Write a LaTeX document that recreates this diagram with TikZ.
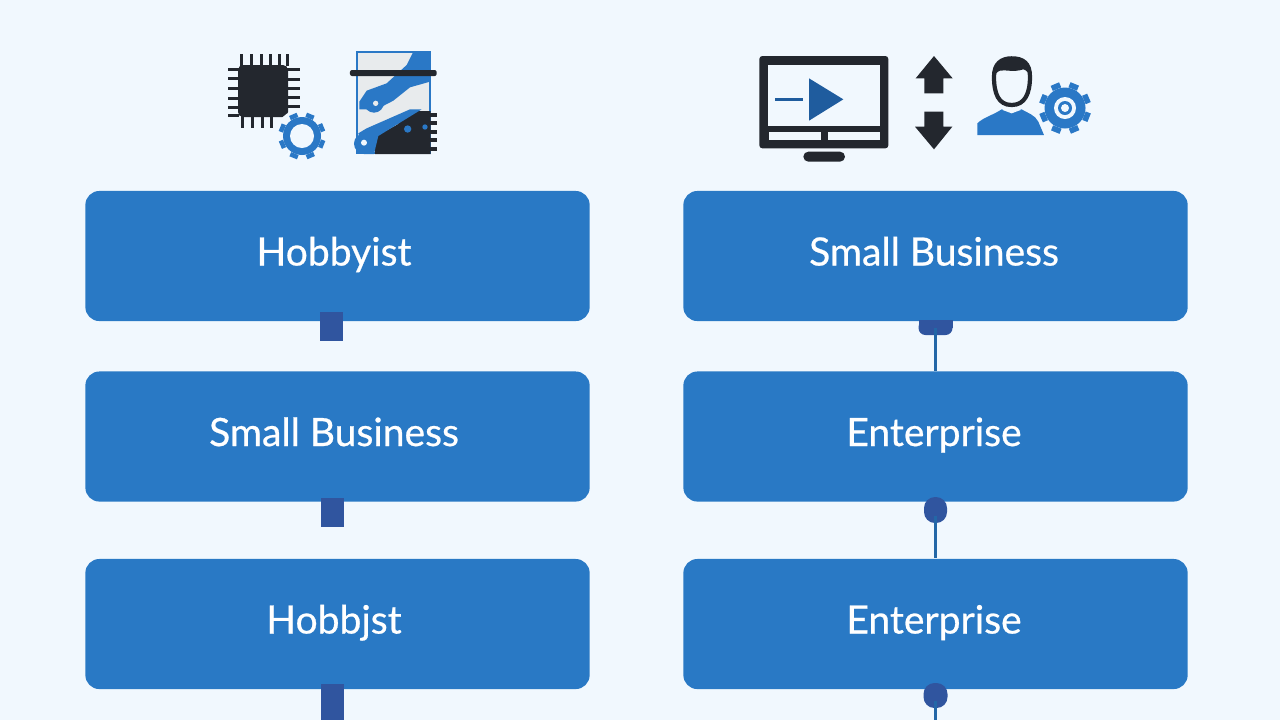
\documentclass[tikz,border=0pt]{standalone}
\usepackage{fontspec}
\setmainfont{Lato}
\newfontfamily\tierfont[FakeBold=0.6]{Lato}
\definecolor{pagebg}{HTML}{F1F8FE}
\definecolor{boxblue}{HTML}{2979C5}
\definecolor{tabblue}{HTML}{30559F}
\definecolor{iconblue}{HTML}{2A78C6}
\definecolor{icondark}{HTML}{23272E}
\definecolor{playblue}{HTML}{1F5C9E}
\definecolor{platelight}{HTML}{E8EBED}
\tikzset{
  tier/.style={fill=boxblue,text=white,rounded corners=0.14cm,minimum width=5.04cm,minimum height=1.3cm,inner sep=0,text height=0.3cm,text depth=0.11cm,font=\tierfont\fontsize{11.1}{12}\selectfont,execute at end node={\hspace{#1}}},
  stub/.style={fill=tabblue,inner sep=0,minimum width=0.23cm,minimum height=0.29cm},
  tab/.style={fill=tabblue,inner sep=0,outer sep=0,rounded corners=0.07cm},
  link/.style={draw=boxblue!85!black,line width=0.8pt,shorten <=-2pt}
}
\newcommand{\gearicon}[6]{
  \begin{scope}[shift={(#1,#2)}]
    \foreach \a in {0,45,...,315}{
      \draw[iconblue,line width=#6] (\a+22:#4) -- (\a+22:#3);
    }
    \fill[iconblue] (0,0) circle [radius=#4];
    \fill[pagebg] (0,0) circle [radius=#5];
  \end{scope}
}
\begin{document}
\begin{tikzpicture}[x=0.01cm,y=-0.01cm]
  \fill[pagebg] (0,0) rectangle (1280,720);
  \useasboundingbox (0,0) rectangle (1280,720);

  % left column
  \node[tier=0.07cm] (hobbyistA) at (337.5,256) {Hobbyist};
  \node[tier=0.07cm] (smallbizA) at (337.5,436.5) {Small Business};
  \node[tier=0.07cm] (hobbyistB) at (337.5,624) {Hobbjst};
  \node[stub] (stubA) at (331.5,326.5) {};
  \node[stub] (stubB) at (332,512.5) {};
  \node[stub,minimum height=0.36cm] (stubC) at (332,702) {};

  % right column
  \node[tier=0.03cm] (smallbizB) at (935.5,256) {Small Business};
  \node[tier=0.03cm] (enterpriseA) at (935.5,436.5) {Enterprise};
  \node[tier=0.03cm] (enterpriseB) at (935.5,624) {Enterprise};
  \coordinate (linkend) at (935.5,720);
  \node[tab,minimum width=0.34cm,minimum height=0.15cm] (tabA) at (935.5,327.5) {};
  \fill[tabblue] (tabA.north west) rectangle (tabA.east);
  \node[tab,rounded corners=0.11cm,minimum width=0.23cm,minimum height=0.26cm] (tabB) at (935.5,510) {};
  \node[tab,rounded corners=0.11cm,minimum width=0.24cm,minimum height=0.25cm] (tabC) at (935.5,695.5) {};
  \draw[link] (tabA) -- (enterpriseA);
  \draw[link] (tabB) -- (enterpriseB);
  \draw[link] (tabC) -- (linkend);

  % chip
  \fill[icondark,rounded corners=0.05cm] (238,65) rectangle (288,117);
  \foreach \x in {241,251,261,270,279,287}{
    \draw[icondark,line width=0.85pt] (\x,54) -- (\x,66);
  }
  \foreach \x in {242,252,262,271}{
    \draw[icondark,line width=0.85pt] (\x,116) -- (\x,128);
  }
  \foreach \y in {69,78,88,98,107,115}{
    \draw[icondark,line width=0.85pt] (228,\y) -- (239,\y);
  }
  \foreach \y in {69,79,88,97,106,114}{
    \draw[icondark,line width=0.85pt] (287,\y) -- (300,\y);
  }
  \fill[pagebg] (302,136) circle [radius=27];
  \gearicon{302}{136}{23.5}{19}{12}{2.3pt}

  % machine
  \begin{scope}[shift={(210,30)},scale=0.3333]
    \fill[platelight] (442,65) rectangle (660,370);
    \draw[iconblue,line width=0.5pt] (442,65) rectangle (660,370);
    \fill[iconblue] (610,65) -- (660,65) -- (660,155) -- (600,172) -- (550,212) -- (500,238) -- (448,238) -- (448,215) -- (470,182) -- (530,160) -- (590,105) -- cycle;
    \fill[iconblue] (492,218) circle [radius=30];
    \fill[icondark] (495,372) -- (495,320) -- (560,285) -- (610,243) -- (662,243) -- (662,372) -- cycle;
    \foreach \y in {255,280,305,330,358}{
      \draw[icondark,line width=1.1pt] (655,\y) -- (680,\y);
    }
    \fill[iconblue] (445,310) -- (470,295) -- (600,238) -- (635,238) -- (505,318) -- (492,372) -- (462,372) -- cycle;
    \fill[iconblue] (463,341) circle [radius=31];
    \fill[icondark,rounded corners=0.02cm] (420,120) rectangle (680,138);
    \fill[platelight] (497,220) circle [radius=8];
    \fill[pagebg] (462,338) circle [radius=9];
    \fill[iconblue] (593,297) circle [radius=11];
    \fill[iconblue] (645,291) circle [radius=8];
  \end{scope}

  % monitor and arrows and user
  \begin{scope}[shift={(740,30)},scale=0.3333]
    \fill[icondark,rounded corners=0.03cm] (58,78) rectangle (445,355);
    \fill[pagebg] (85,105) rectangle (420,288);
    \fill[pagebg] (87,307) rectangle (243,330);
    \fill[pagebg] (265,307) rectangle (420,330);
    \fill[icondark,rounded corners=0.05cm] (190,365) rectangle (315,395);
    \fill[playblue] (207,145) -- (310,208) -- (207,272) -- cycle;
    \draw[playblue,line width=1pt] (105,208) -- (188,208);
    \fill[icondark] (582,78) -- (638,145) -- (610,145) -- (610,190) -- (553,190) -- (553,145) -- (527,145) -- cycle;
    \fill[icondark] (553,245) -- (610,245) -- (610,290) -- (637,290) -- (582,358) -- (525,290) -- (553,290) -- cycle;
    \fill[iconblue] (712,315) -- (712,280) .. controls (730,262) and (760,255) .. (785,238) -- (845,238) .. controls (865,250) and (885,255) .. (895,275) -- (912,315) -- cycle;
    \fill[pagebg] (788,225) -- (842,225) -- (842,240) -- (815,250) -- (788,240) -- cycle;
    \draw[icondark,fill=pagebg,line width=1.2pt] (815,225) .. controls (775,225) and (762,190) .. (762,140) .. controls (762,100) and (785,85) .. (815,85) .. controls (850,85) and (870,100) .. (870,140) .. controls (870,190) and (855,225) .. (815,225) -- cycle;
    \fill[icondark] (758,150) .. controls (752,100) and (785,82) .. (815,82) .. controls (850,82) and (878,100) .. (873,150) .. controls (868,130) and (860,120) .. (850,118) .. controls (820,128) and (795,118) .. (780,122) .. controls (770,125) and (763,135) .. (758,150) -- cycle;
  \end{scope}
  \gearicon{1065}{108}{26}{20.5}{11}{2.6pt}
  \fill[iconblue] (1065,108) circle [radius=7];
  \fill[pagebg] (1065,108) circle [radius=4];
\end{tikzpicture}
\end{document}
